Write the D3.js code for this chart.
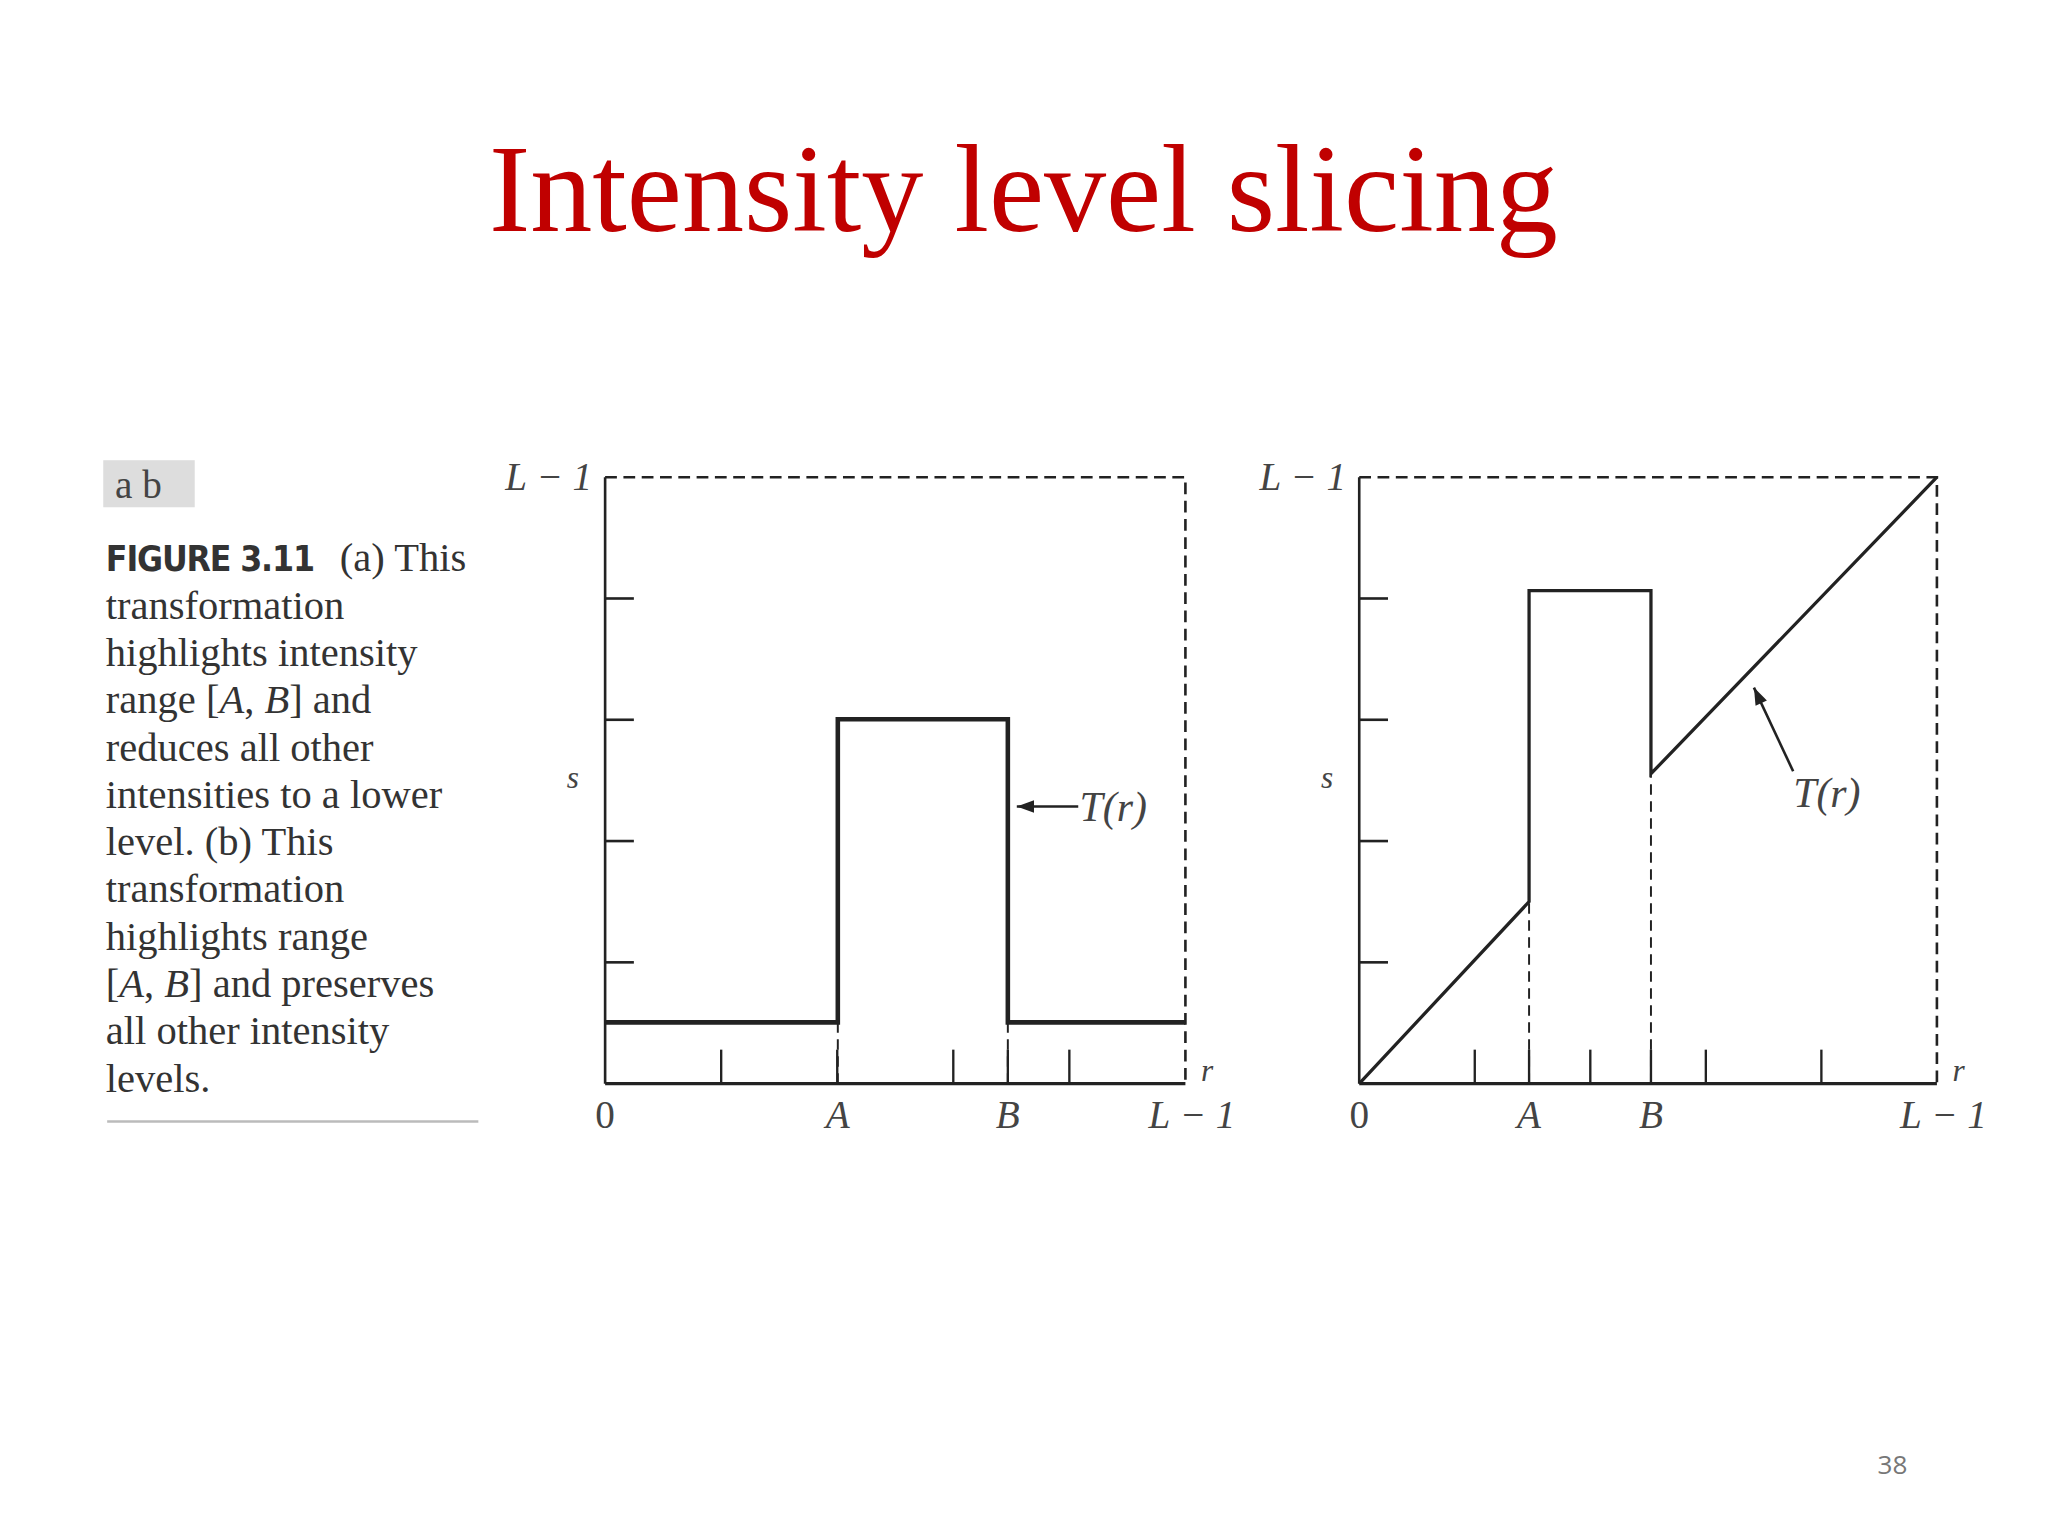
<!DOCTYPE html>
<html><head><meta charset="utf-8">
<script src="https://cdn.jsdelivr.net/npm/d3@7"></script>
<style>body{margin:0;background:#fff}</style>
</head><body>
<script>
// values in units of L-1 (0..1)
const ticksY = [0.2, 0.4, 0.6, 0.8];
const ticksXa = [0.2, 0.4, 0.6, 0.694, 0.8];
const ticksXb = [0.2, 0.294, 0.4, 0.505, 0.6, 0.8];
const curveA = [[0,0.101],[0.401,0.101],[0.401,0.601],[0.694,0.601],[0.694,0.101],[1,0.101]];
const curveB = [[0,0],[0.294,0.3],[0.294,0.813],[0.505,0.813],[0.505,0.511],[1,1]];
const labelsXa = [["0",0],["A",0.401],["B",0.694],["L − 1",1]];
const labelsXb = [["0",0],["A",0.294],["B",0.505],["L − 1",1]];
const caption = ["(a) This","transformation","highlights intensity","range [*A*, *B*] and","reduces all other","intensities to a lower","level. (b) This","transformation","highlights range","[*A*, *B*] and preserves","all other intensity","levels."];

const svg = d3.select("body").append("svg")
  .attr("width", 2048).attr("height", 1536)
  .attr("viewBox", "0 0 1567 1175");

svg.append("text").attr("x", 783).attr("y", 177).attr("text-anchor", "middle")
  .attr("font-family", "Liberation Serif").attr("font-size", 95).attr("fill", "#c00000")
  .text("Intensity level slicing");

// caption block
const serif = "Liberation Serif";
svg.append("rect").attr("x", 79).attr("y", 352).attr("width", 70).attr("height", 36).attr("fill", "#ddd");
svg.append("text").attr("x", 88).attr("y", 381).attr("font-family", serif).attr("font-size", 30).attr("fill", "#444").text("a  b");
svg.append("text").attr("x", 81).attr("y", 437).attr("font-family", "DejaVu Sans Condensed").attr("font-weight", "bold")
  .attr("font-size", 27).attr("fill", "#333").attr("textLength", 160).text("FIGURE 3.11");
caption.forEach((t, i) => {
  const tx = svg.append("text").attr("x", i === 0 ? 260 : 81).attr("y", 437 + i * 36.2)
    .attr("font-family", serif).attr("font-size", 31).attr("fill", "#333");
  t.split("*").forEach((part, j) => tx.append("tspan").attr("font-style", j % 2 ? "italic" : "normal").text(part));
});
svg.append("line").attr("x1", 82).attr("x2", 366).attr("y1", 858).attr("y2", 858).attr("stroke", "#bbb").attr("stroke-width", 2);

svg.append("text").attr("x", 1448).attr("y", 1128).attr("text-anchor", "middle")
  .attr("font-family", "Open Sans").attr("font-size", 20).attr("fill", "#777").text("38");

function panel(x0, x1, ticksX, curve, labelsX, dashedX, ann) {
  const x = d3.scaleLinear().domain([0, 1]).range([x0, x1]);
  const y = d3.scaleLinear().domain([0, 1]).range([829, 365]);
  const g = svg.append("g").attr("stroke", "#222").attr("fill", "none");
  g.append("line").attr("x1", x(0)).attr("x2", x(0)).attr("y1", y(0)).attr("y2", y(1)).attr("stroke-width", 2);
  g.append("line").attr("x1", x(0)).attr("x2", x(1)).attr("y1", y(0)).attr("y2", y(0)).attr("stroke-width", 2.5);
  g.append("path").attr("d", d3.line()([[x(0), y(1)], [x(1), y(1)], [x(1), y(0)]]))
    .attr("stroke-dasharray", "9,5").attr("stroke-width", 2);
  dashedX.forEach(v => g.append("line").attr("x1", x(v[0])).attr("x2", x(v[0])).attr("y1", y(0)).attr("y2", y(v[1]))
    .attr("stroke-dasharray", "8,5").attr("stroke-width", 1.5));
  ticksY.forEach(t => g.append("line").attr("x1", x(0)).attr("x2", x(0) + 22).attr("y1", y(t)).attr("y2", y(t)).attr("stroke-width", 2));
  ticksX.forEach(t => g.append("line").attr("x1", x(t)).attr("x2", x(t)).attr("y1", y(0)).attr("y2", y(0) - 26).attr("stroke-width", 1.8));
  g.append("path").attr("d", d3.line().x(d => x(d[0])).y(d => y(d[1]))(curve)).attr("stroke-width", ann.w);
  const t = svg.append("g").attr("font-family", serif).attr("font-style", "italic").attr("fill", "#444");
  t.append("text").attr("x", x(0) - 10).attr("y", y(1) + 10).attr("text-anchor", "end").attr("font-size", 30).text("L − 1");
  t.append("text").attr("x", x(0) - 20).attr("y", 603).attr("text-anchor", "end").attr("font-size", 24).text("s");
  t.append("text").attr("x", x(1) + 12).attr("y", y(0) - 2).attr("font-size", 24).text("r");
  labelsX.forEach(l => t.append("text").attr("x", x(l[1]) + (l[1] === 1 ? 5 : 0)).attr("y", y(0) + 34)
    .attr("text-anchor", "middle").attr("font-size", 30).attr("font-style", l[0] === "0" ? "normal" : "italic").text(l[0]));
  t.append("text").attr("x", ann.tx).attr("y", ann.ty).attr("font-size", 32).text("T(r)");
  svg.append("line").attr("x1", ann.ax1).attr("y1", ann.ay1).attr("x2", ann.ax2).attr("y2", ann.ay2)
    .attr("stroke", "#222").attr("stroke-width", 2);
  const ang = Math.atan2(ann.ay2 - ann.ay1, ann.ax2 - ann.ax1);
  const h = 14, s = 0.35;
  svg.append("path").attr("fill", "#222").attr("d", d3.line()([
    [ann.ax2, ann.ay2],
    [ann.ax2 - h * Math.cos(ang - s), ann.ay2 - h * Math.sin(ang - s)],
    [ann.ax2 - h * Math.cos(ang + s), ann.ay2 - h * Math.sin(ang + s)]]));
}

panel(463, 907, ticksXa, curveA, labelsXa, [[0.401, 0.101], [0.694, 0.101]],
  {w: 3.5, tx: 826, ty: 628, ax1: 825, ay1: 617, ax2: 778, ay2: 617});
panel(1040, 1482, ticksXb, curveB, labelsXb, [[0.294, 0.3], [0.505, 0.511]],
  {w: 2.5, tx: 1372, ty: 617, ax1: 1372, ay1: 590, ax2: 1342, ay2: 526});
</script>
</body></html>
